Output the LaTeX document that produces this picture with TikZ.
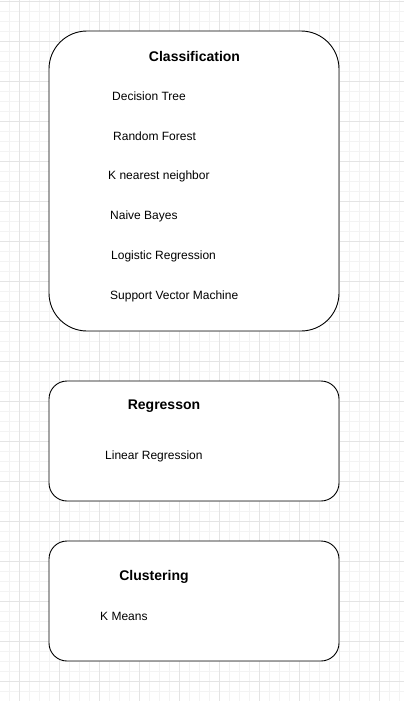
\documentclass[tikz,border=0pt]{standalone}
\usepackage{fontspec}
\setmainfont{Liberation Sans}
\definecolor{minorgrid}{HTML}{F3F3F3}
\definecolor{majorgrid}{HTML}{E4E4E4}
\begin{document}
\begin{tikzpicture}[x=1pt,y=-1pt,
  groupbox/.style={draw=black,line width=0.9pt,fill=white},
  titletext/.style={font=\fontsize{14}{16}\selectfont\bfseries,inner sep=0pt},
  itemtext/.style={font=\fontsize{12}{14}\selectfont,inner sep=0pt,anchor=west}]
\useasboundingbox (0,0) rectangle (404,701);
\fill[white] (0,0) rectangle (404,701);
% minor grid
\foreach \x in {9,19,...,399} \draw[minorgrid,line width=0.5pt] (\x,0) -- (\x,701);
\foreach \y in {1,11,...,701} \draw[minorgrid,line width=0.5pt] (0,\y) -- (404,\y);
% major grid
\foreach \x in {19,59,...,399} \draw[majorgrid,line width=0.7pt] (\x,0) -- (\x,701);
\foreach \y in {1,41,...,701} \draw[majorgrid,line width=0.7pt] (0,\y) -- (404,\y);
% boxes
\draw[groupbox,rounded corners=38pt] (49,31) rectangle (339,331);
\draw[groupbox,rounded corners=18pt] (49,381) rectangle (339,501);
\draw[groupbox,rounded corners=18pt] (49,541) rectangle (339,661);
% texts
\node[titletext] (cls) at (194.5,56.5) {Classification};
\node[itemtext] (dt) at (112,96) {Decision Tree};
\node[itemtext] (rf) at (113,136) {Random Forest};
\node[itemtext] (knn) at (108,176) {K nearest neighbor};
\node[itemtext] (nb) at (110,216) {Naive Bayes};
\node[itemtext] (lr) at (111,256) {Logistic Regression};
\node[itemtext] (svm) at (110,296) {Support Vector Machine};
\node[titletext] (reg) at (164,406.5) {Regresson};
\node[itemtext] (lin) at (105,456) {Linear Regression};
\node[titletext] (clu) at (154,576.5) {Clustering};
\node[itemtext] (km) at (100,616) {K Means};
\end{tikzpicture}
\end{document}
